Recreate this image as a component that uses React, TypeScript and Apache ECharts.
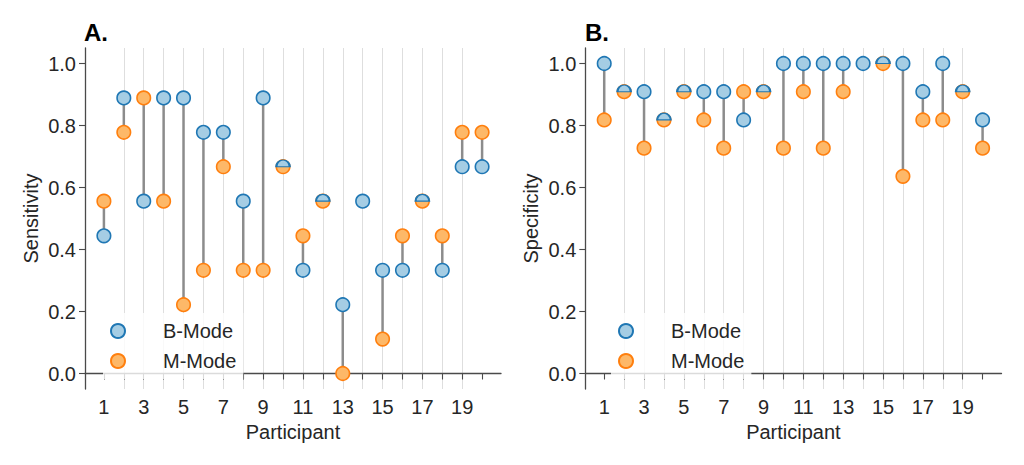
import React, { useEffect, useRef } from "react";
import * as echarts from "echarts";

const participants = [1, 2, 3, 4, 5, 6, 7, 8, 9, 10, 11, 12, 13, 14, 15, 16, 17, 18, 19, 20];
const xTickValues = [1, 2, 3, 4, 5, 6, 7, 8, 9, 10, 11, 12, 13, 14, 15, 16, 17, 18, 19, 20];
const xLabelValues = [1, 3, 5, 7, 9, 11, 13, 15, 17, 19];
const yTickValues = [0, 0.2, 0.4, 0.6, 0.8, 1.0];

const sensitivityB = [0.444, 0.889, 0.556, 0.889, 0.889, 0.778, 0.778, 0.556, 0.889, 0.667, 0.333, 0.556, 0.222, 0.556, 0.333, 0.333, 0.556, 0.333, 0.667, 0.667];
const sensitivityM = [0.556, 0.778, 0.889, 0.556, 0.222, 0.333, 0.667, 0.333, 0.333, 0.667, 0.444, 0.556, 0.0, null, 0.111, 0.444, 0.556, 0.444, 0.778, 0.778];
const specificityB = [1.0, 0.909, 0.909, 0.818, 0.909, 0.909, 0.909, 0.818, 0.909, 1.0, 1.0, 1.0, 1.0, 1.0, 1.0, 1.0, 0.909, 1.0, 0.909, 0.818];
const specificityM = [0.818, 0.909, 0.727, 0.818, 0.909, 0.818, 0.727, 0.909, 0.909, 0.727, 0.909, 0.727, 0.909, null, 1.0, 0.636, 0.818, 0.818, 0.909, 0.727];

const FONT = "'Liberation Sans', Arial, Helvetica, sans-serif";
const TEXT = "#262626";
const AXIS = "#4a4a4a";
const B_FILL = "#a5cde4";
const B_EDGE = "#1f77b4";
const M_FILL = "#fdb868";
const M_EDGE = "#ff7f0e";
const STEM = "#8c8c8c";
const SIZE = 13.5;
const HALF = "path://M0,10 A10,10 0 0 1 20,10 Z";

function mkX(i: number) {
  return {
    type: "value",
    gridIndex: i,
    min: 0.05,
    max: 20.95,
    name: "Participant",
    nameLocation: "middle",
    nameGap: 32,
    nameTextStyle: { fontSize: 20, color: TEXT, fontFamily: FONT },
    axisLine: { show: true, lineStyle: { color: AXIS, width: 1.3 } },
    axisTick: { show: true, length: 6, customValues: xTickValues, lineStyle: { color: AXIS, width: 1.1 } },
    axisLabel: {
      customValues: xLabelValues,
      fontSize: 20,
      color: TEXT,
      fontFamily: FONT,
      margin: 8,
    },
    splitLine: { show: true, showMinLine: false, showMaxLine: false, lineStyle: { color: "#dedede", width: 1 } },
  };
}

function mkY(i: number, name: string) {
  return {
    type: "value",
    gridIndex: i,
    min: -0.05,
    max: 1.05,
    name,
    nameLocation: "middle",
    nameGap: 44,
    nameTextStyle: { fontSize: 20, color: TEXT, fontFamily: FONT },
    axisLine: { show: true, lineStyle: { color: AXIS, width: 1.3 } },
    axisTick: { show: true, length: 6, customValues: yTickValues, lineStyle: { color: AXIS, width: 1.1 } },
    axisLabel: {
      customValues: yTickValues,
      formatter: (v: number) => v.toFixed(1),
      fontSize: 20,
      color: TEXT,
      fontFamily: FONT,
      margin: 9,
    },
    splitLine: { show: false },
  };
}

function panelSeries(i: number, bVals: (number | null)[], mVals: (number | null)[]) {
  const stemData = participants
    .map((p, k) => [p, bVals[k], mVals[k]])
    .filter((d) => d[1] != null && d[2] != null);
  const mData = participants
    .map((p, k) => [p, mVals[k]])
    .filter((d) => d[1] != null);
  const bData = participants.map((p, k) => {
    if (mVals[k] != null && mVals[k] === bVals[k]) {
      return { value: [p, bVals[k]], symbol: HALF, symbolSize: [SIZE, SIZE / 2], symbolOffset: [0, -SIZE / 4] };
    }
    return { value: [p, bVals[k]] };
  });
  return [
    {
      type: "custom",
      xAxisIndex: i,
      yAxisIndex: i,
      data: stemData,
      encode: { x: 0, y: [1, 2] },
      z: 1,
      renderItem: (params: any, api: any) => {
        const x = api.value(0);
        const p1 = api.coord([x, api.value(1)]);
        const p2 = api.coord([x, api.value(2)]);
        return {
          type: "line",
          shape: { x1: p1[0], y1: p1[1], x2: p2[0], y2: p2[1] },
          style: { stroke: STEM, lineWidth: 2.5 },
        };
      },
    },
    {
      type: "scatter",
      name: "M-Mode",
      xAxisIndex: i,
      yAxisIndex: i,
      data: mData,
      symbol: "circle",
      symbolSize: SIZE,
      z: 2,
      itemStyle: { color: M_FILL, borderColor: M_EDGE, borderWidth: 1.6, opacity: 1 },
    },
    {
      type: "scatter",
      name: "B-Mode",
      xAxisIndex: i,
      yAxisIndex: i,
      data: bData,
      symbol: "circle",
      symbolSize: SIZE,
      z: 3,
      itemStyle: { color: B_FILL, borderColor: B_EDGE, borderWidth: 1.6, opacity: 1 },
    },
  ];
}

function mkLegend(left: number) {
  return {
    left,
    top: 313,
    orient: "vertical",
    padding: [8, 7, 8, 7],
    backgroundColor: "rgba(255,255,255,0.8)",
    itemWidth: 14,
    itemHeight: 14,
    itemGap: 10,
    selectedMode: false,
    textStyle: { fontSize: 20, lineHeight: 20, color: TEXT, fontFamily: FONT, padding: [0, 0, 0, 33] },
    data: [
      { name: "B-Mode", icon: "circle" },
      { name: "M-Mode", icon: "circle" },
    ],
  };
}

export default function App() {
  const ref = useRef<HTMLDivElement>(null);
  useEffect(() => {
    if (!ref.current) return;
    const chart = echarts.init(ref.current, undefined, { renderer: "svg" });
    chart.setOption({
      animation: false,
      backgroundColor: "#ffffff",
      textStyle: { fontFamily: FONT },
      title: [
        { text: "A.", left: 84, top: 20, padding: 0, textStyle: { fontSize: 24, fontWeight: "bold", color: "#000", fontFamily: FONT } },
        { text: "B.", left: 585, top: 20, padding: 0, textStyle: { fontSize: 24, fontWeight: "bold", color: "#000", fontFamily: FONT } },
      ],
      legend: [mkLegend(103), mkLegend(611)],
      grid: [
        { left: 85, right: 523, top: 48, bottom: 76 },
        { left: 585.3, right: 22.5, top: 48, bottom: 76 },
      ],
      xAxis: [mkX(0), mkX(1)],
      yAxis: [mkY(0, "Sensitivity"), mkY(1, "Specificity")],
      series: [
        ...panelSeries(0, sensitivityB, sensitivityM),
        ...panelSeries(1, specificityB, specificityM),
      ],
    });
    return () => chart.dispose();
  }, []);
  return <div ref={ref} style={{ width: 1024, height: 465, position: "absolute", left: 0, top: 0 }} />;
}
